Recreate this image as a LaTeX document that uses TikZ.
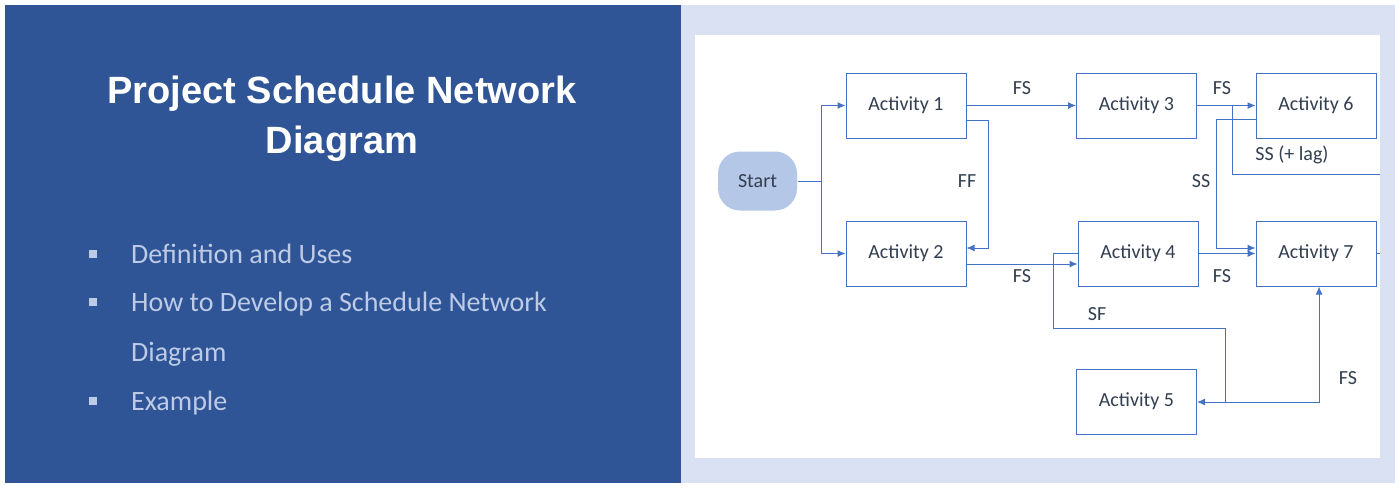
\documentclass[tikz,border=0pt]{standalone}
\usepackage{fontspec}
\setmainfont{Carlito}
\newfontfamily\titlefont{Liberation Sans}
\usetikzlibrary{arrows.meta}
\definecolor{dblue}{HTML}{2F5597}
\definecolor{lblue}{HTML}{D9E1F2}
\definecolor{lnc}{HTML}{4472C4}
\definecolor{stfill}{HTML}{B4C7E7}
\definecolor{bul}{HTML}{BDCBE6}
\definecolor{txt}{HTML}{333F50}
\begin{document}
\begin{tikzpicture}[x=1pt,y=-1pt,
  box/.style={draw=lnc,line width=1pt,fill=white,minimum width=120pt,minimum height=65pt,inner sep=0pt,font=\fontsize{20}{24}\selectfont,text=txt},
  lab/.style={font=\fontsize{20}{24}\selectfont,text=txt,inner sep=0pt},
  con/.style={draw=lnc,line width=1pt},
  arr/.style={con,-{Latex[length=8pt,width=7pt]}},
  btxt/.style={anchor=west,text=bul,font=\fontsize{28}{32}\selectfont,inner sep=0pt},
  bsq/.style={fill=bul,minimum size=8pt,inner sep=0pt}]
\useasboundingbox (0,0) rectangle (1399,488);
\fill[white] (0,0) rectangle (1399,488);
\fill[dblue] (5,5) rectangle (681,483);
\fill[lblue] (681,5) rectangle (1395,483);
\fill[white] (695,35) rectangle (1380,458);
\node[text=white,font=\titlefont\bfseries\fontsize{38}{50}\selectfont,align=center] (title) at (342,119) {Project Schedule Network\\Diagram};
\node[bsq] (b1) at (93,254) {}; \node[btxt] (t1) at (131,254) {Definition and Uses};
\node[bsq] (b2) at (93,302) {}; \node[btxt] (t2) at (131,304) {How to Develop a Schedule Network};
\node[btxt] (t2b) at (131,354) {Diagram};
\node[bsq] (b3) at (93,401) {}; \node[btxt] (t3) at (131,403) {Example};
% nodes
\node[box,fill=stfill,draw=none,rounded corners=22pt,minimum width=79pt,minimum height=59pt] (st) at (757.5,181) {Start};
\node[box] (a1) at (906,105.5) {Activity 1};
\node[box] (a3) at (1136.5,105.5) {Activity 3};
\node[box] (a6) at (1316,105.5) {Activity 6};
\node[box] (a2) at (906,253.5) {Activity 2};
\node[box] (a4) at (1138,253.5) {Activity 4};
\node[box] (a7) at (1316,253.5) {Activity 7};
\node[box] (a5) at (1136.5,401.5) {Activity 5};
\coordinate (e1) at (1380,174);
\coordinate (e2) at (1380,253.5);
% connectors
\draw[con] (st.east) -- (821,181);
\draw[arr] (821,181) |- (a1.west);
\draw[arr] (821,181) |- (a2.west);
\draw[arr] (a1.east) -- (a3.west);
\draw[arr] (a1.east |- 0,120) -- (988,120) -- (988,248) -- (a2.east |- 0,248);
\draw[arr] (a2.east |- 0,264) -- (a4.west |- 0,264);
\draw[arr] (a3.east) -- (a6.west);
\draw[con] (1232,105.5) -- (1232,174) -- (e1);
\draw[arr] (a6.west |- 0,119) -- (1216,119) -- (1216,248) -- (a7.west |- 0,248);
\draw[arr] (a4.east) -- (a7.west);
\draw[arr] (a4.west) -- (1053,253.5) -- (1053,328) -- (1225,328) -- (1225,402) -- (a5.east |- 0,402);
\draw[arr] (1225,402) -- (1319,402) -- (a7.south -| 1319,0);
\draw[con] (a7.east) -- (e2);
% labels
\node[lab] (l1) at (1022,88) {FS};
\node[lab] (l2) at (967,181) {FF};
\node[lab] (l3) at (1022,276) {FS};
\node[lab] (l4) at (1222,88) {FS};
\node[lab] (l5) at (1292,155) {SS (+ lag)};
\node[lab] (l6) at (1201,181) {SS};
\node[lab] (l7) at (1222,276) {FS};
\node[lab] (l8) at (1097,314) {SF};
\node[lab] (l9) at (1348,378) {FS};
\end{tikzpicture}
\end{document}
